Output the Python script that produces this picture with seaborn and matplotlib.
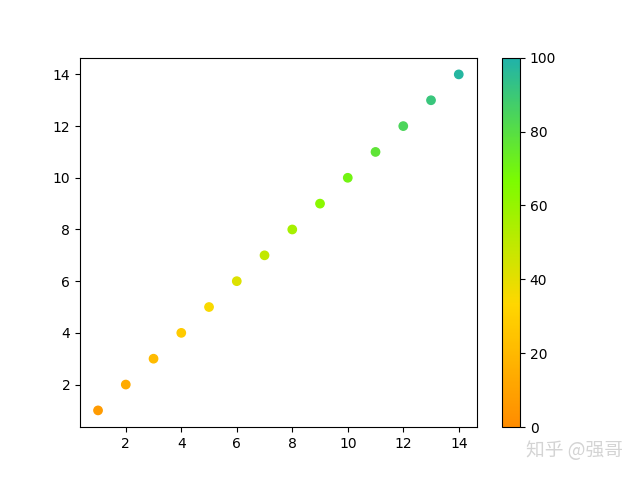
import matplotlib
matplotlib.use("Agg")
import matplotlib.pyplot as plt
import seaborn as sns
import pandas as pd
from matplotlib.colors import LinearSegmentedColormap, Normalize
from matplotlib.cm import ScalarMappable

x_vals = [1, 2, 3, 4, 5, 6, 7, 8, 9, 10, 11, 12, 13, 14]
y_vals = [1, 2, 3, 4, 5, 6, 7, 8, 9, 10, 11, 12, 13, 14]
c_vals = [7, 14, 21, 28, 35, 42, 49, 56, 63, 70, 77, 84, 91, 98]
cmap_colors = ["darkorange", "gold", "lawngreen", "lightseagreen"]

df = pd.DataFrame({"x": x_vals, "y": y_vals, "c": c_vals})
cmap = LinearSegmentedColormap.from_list("custom", cmap_colors)
norm = Normalize(vmin=0, vmax=100)

fig, ax = plt.subplots(figsize=(6.4, 4.8), dpi=100)
sns.scatterplot(data=df, x="x", y="y", hue="c", palette=cmap, hue_norm=norm,
                legend=False, s=36, linewidth=1, edgecolor="face", ax=ax)
ax.set_xlabel("")
ax.set_ylabel("")
sm = ScalarMappable(norm=norm, cmap=cmap)
sm.set_array([])
fig.colorbar(sm, ax=ax)

fig.text(0.973, 0.04, "知乎 @强哥", ha="right", va="bottom", fontsize=13.5,
         color="#d4d4d4", family=["Noto Sans CJK SC", "DejaVu Sans"])
fig.savefig("out.png", dpi=100)
